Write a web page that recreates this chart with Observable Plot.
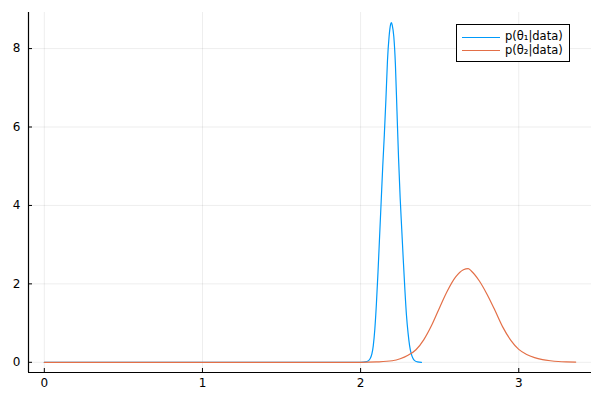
<!DOCTYPE html>
<html>
<head>
<meta charset="utf-8">
<script src="https://cdn.jsdelivr.net/npm/d3@7"></script>
<script src="https://cdn.jsdelivr.net/npm/@observablehq/plot@0.6"></script>
<style>
  html, body { margin: 0; padding: 0; background: #fff; }
  #wrap { position: relative; width: 600px; height: 400px; font-family: "DejaVu Sans", sans-serif; }
  #legend { position: absolute; left: 456px; top: 24px; width: 112px; height: 36px; border: 1px solid #000; background: #fff; font-size: 11.5px; line-height: 13.5px; }
  .row { position: absolute; left: 0; display: flex; align-items: center; height: 14px; }
  .sw { display: inline-block; width: 38px; height: 0; border-top: 1px solid; margin-left: 5px; margin-right: 5px; }
</style>
</head>
<body>
<div id="wrap"></div>
<script>
// ---- data ----
const xTicks = [0, 1, 2, 3];
const yTicks = [0, 2, 4, 6, 8];
const seriesNames = ["p(θ₁|data)", "p(θ₂|data)"];
const seriesColors = ["#009AFA", "#E36F47"];

const theta1X = [0, 2.00, 2.04, 2.06, 2.08, 2.09, 2.10, 2.11, 2.12, 2.13, 2.14, 2.15, 2.16, 2.17, 2.18, 2.19, 2.195, 2.20, 2.21, 2.22, 2.23, 2.24, 2.25, 2.26, 2.27, 2.28, 2.29, 2.30, 2.31, 2.32, 2.33, 2.34, 2.36, 2.385];
const theta1Y = [0, 0, 0.02, 0.09, 0.42, 0.85, 1.5, 2.3, 3.2, 4.1, 5.0, 5.8, 6.7, 7.7, 8.3, 8.62, 8.66, 8.6, 8.3, 7.6, 6.4, 5.2, 4.2, 3.4, 2.6, 1.85, 1.2, 0.75, 0.42, 0.22, 0.11, 0.05, 0.01, 0];

const theta2X = [0, 2.00, 2.10, 2.20, 2.25, 2.30, 2.35, 2.40, 2.45, 2.50, 2.55, 2.60, 2.65, 2.68, 2.70, 2.75, 2.80, 2.85, 2.90, 2.95, 3.00, 3.05, 3.10, 3.15, 3.20, 3.25, 3.30, 3.36];
const theta2Y = [0, 0, 0.01, 0.04, 0.09, 0.18, 0.32, 0.58, 0.95, 1.40, 1.83, 2.17, 2.36, 2.39, 2.33, 2.08, 1.73, 1.32, 0.89, 0.56, 0.33, 0.20, 0.12, 0.07, 0.04, 0.02, 0.01, 0.005];

const xDomain = [-0.1, 3.46];
const yDomain = [-0.26, 8.92];

// ---- build tables ----
const s1 = theta1X.map((x, i) => ({x, y: theta1Y[i]}));
const s2 = theta2X.map((x, i) => ({x, y: theta2Y[i]}));

const chart = Plot.plot({
  width: 600,
  height: 400,
  marginLeft: 28,
  marginRight: 9,
  marginTop: 12,
  marginBottom: 28,
  style: { fontFamily: "DejaVu Sans, sans-serif", fontSize: "12px", color: "#000", background: "#fff" },
  x: { domain: xDomain },
  y: { domain: yDomain },
  marks: [
    Plot.gridX(xTicks, { stroke: "#000", strokeOpacity: 0.07, strokeWidth: 1 }),
    Plot.gridY(yTicks, { stroke: "#000", strokeOpacity: 0.07, strokeWidth: 1 }),
    Plot.line(s1, { x: "x", y: "y", stroke: seriesColors[0], strokeWidth: 1.2, curve: "monotone-x" }),
    Plot.line(s2, { x: "x", y: "y", stroke: seriesColors[1], strokeWidth: 1.2, curve: "monotone-x" }),
    Plot.ruleX([xDomain[0]], { stroke: "#000", strokeWidth: 1.2 }),
    Plot.ruleY([yDomain[0]], { stroke: "#000", strokeWidth: 1.2 }),
    Plot.axisX(xTicks, { tickSize: -4, tickPadding: 10, label: null, stroke: "#000", fill: "#000", fontSize: 12, tickFormat: d3.format("d") }),
    Plot.axisY(yTicks, { tickSize: -4, tickPadding: 12, label: null, stroke: "#000", fill: "#000", fontSize: 12, tickFormat: d3.format("d") })
  ]
});

const wrap = document.getElementById("wrap");
wrap.appendChild(chart);

// legend (inside the plot area, top-right)
const legend = document.createElement("div");
legend.id = "legend";
seriesNames.forEach((name, i) => {
  const row = document.createElement("div");
  row.className = "row";
  row.style.top = (5 + i * 13.5) + "px";
  const sw = document.createElement("span");
  sw.className = "sw";
  sw.style.borderTopColor = seriesColors[i];
  const t = document.createElement("span");
  t.textContent = name;
  row.appendChild(sw);
  row.appendChild(t);
  legend.appendChild(row);
});
wrap.appendChild(legend);
</script>
</body>
</html>
